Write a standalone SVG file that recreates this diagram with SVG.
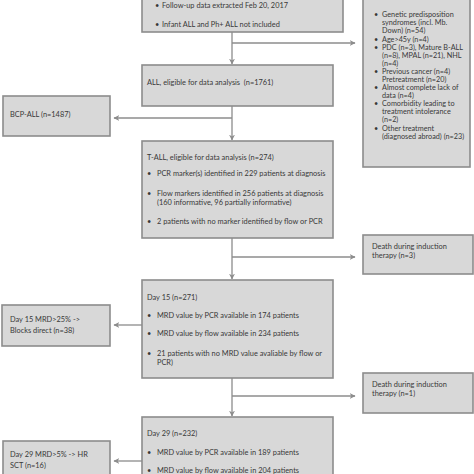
<svg xmlns="http://www.w3.org/2000/svg" width="474" height="474" viewBox="0 0 474 474">
<style>
.box{fill:#d8d8d8;stroke:#8c8c8c;stroke-width:1.6}
.t{font-family:Lato,"Liberation Sans",sans-serif;font-size:7.4px;fill:#383838}
.s{font-size:7.25px}
.c{fill:none;stroke:#8c8c8c;stroke-width:1.3}
</style>
<defs>
<marker id="ah" viewBox="0 0 10 10" refX="9" refY="5" markerWidth="6" markerHeight="6" markerUnits="userSpaceOnUse" orient="auto">
<path d="M0,0 L10,5 L0,10 L3,5 Z" fill="#8c8c8c"/>
</marker>
</defs>
<rect width="474" height="474" fill="#ffffff"/>

<g id="connectors">
<path class="c" d="M232,32 V64" marker-end="url(#ah)"/>
<path class="c" d="M232,43 H355" marker-end="url(#ah)"/>
<path class="c" d="M232,106 V140" marker-end="url(#ah)"/>
<path class="c" d="M232,118 H114" marker-end="url(#ah)"/>
<path class="c" d="M232,238 V279" marker-end="url(#ah)"/>
<path class="c" d="M232,257 H355" marker-end="url(#ah)"/>
<path class="c" d="M142,325 H114" marker-end="url(#ah)"/>
<path class="c" d="M232,378 V416" marker-end="url(#ah)"/>
<path class="c" d="M232,396 H355" marker-end="url(#ah)"/>
<path class="c" d="M142,461 H114" marker-end="url(#ah)"/>
</g>

<g id="top">
<rect class="box" x="142" y="-10" width="201" height="42"/>
<text class="t" x="155" y="7.5">•</text><text class="t" x="162" y="7.5">Follow-up data extracted Feb 20, 2017</text>
<text class="t" x="155" y="26.5">•</text><text class="t" x="162" y="26.5">Infant ALL and Ph+ ALL not included</text>
</g>

<g id="excluded">
<rect class="box" x="363" y="-5" width="107" height="172"/>
<text class="t s" x="374" y="16.5">•</text><text class="t s" x="382" y="16.5">Genetic predisposition</text>
<text class="t s" x="382" y="25">syndromes (incl. Mb.</text>
<text class="t s" x="382" y="33">Down) (n=54)</text>
<text class="t s" x="374" y="41.5">•</text><text class="t s" x="382" y="41.5">Age&gt;45y (n=4)</text>
<text class="t s" x="374" y="49.5">•</text><text class="t s" x="382" y="49.5">PDC (n=3), Mature B-ALL</text>
<text class="t s" x="382" y="57.5">(n=8), MPAL (n=21), NHL</text>
<text class="t s" x="382" y="65.5">(n=4)</text>
<text class="t s" x="374" y="73.5">•</text><text class="t s" x="382" y="73.5">Previous cancer (n=4)</text>
<text class="t s" x="382" y="81.5">Pretreatment (n=20)</text>
<text class="t s" x="374" y="89.5">•</text><text class="t s" x="382" y="89.5">Almost complete lack of</text>
<text class="t s" x="382" y="97.5">data (n=4)</text>
<text class="t s" x="374" y="105.5">•</text><text class="t s" x="382" y="105.5">Comorbidity leading to</text>
<text class="t s" x="382" y="114">treatment intolerance</text>
<text class="t s" x="382" y="122">(n=2)</text>
<text class="t s" x="374" y="130.5">•</text><text class="t s" x="382" y="130.5">Other treatment</text>
<text class="t s" x="382" y="138.5">(diagnosed abroad) (n=23)</text>
</g>

<g id="all">
<rect class="box" x="142" y="65" width="191" height="41"/>
<text class="t" x="147" y="85" xml:space="preserve">ALL, eligible for data analysis  (n=1761)</text>
</g>

<g id="bcp">
<rect class="box" x="3" y="96" width="107" height="40"/>
<text class="t" x="10" y="117">BCP-ALL (n=1487)</text>
</g>

<g id="tall">
<rect class="box" x="142" y="141" width="191" height="97"/>
<text class="t" x="147" y="160">T-ALL, eligible for data analysis (n=274)</text>
<text class="t" x="147" y="176">•</text><text class="t" x="157" y="176">PCR marker(s) identified in 229 patients at diagnosis</text>
<text class="t" x="147" y="196">•</text><text class="t" x="157" y="196">Flow markers identified in 256 patients at diagnosis</text>
<text class="t" x="157" y="204.5">(160 informative, 96 partially informative)</text>
<text class="t" x="147" y="224">•</text><text class="t" x="157" y="224">2 patients with no marker identified by flow or PCR</text>
</g>

<g id="death1">
<rect class="box" x="363" y="235" width="110" height="39"/>
<text class="t" x="372" y="249">Death during induction</text>
<text class="t" x="372" y="257.5">therapy (n=3)</text>
</g>

<g id="day15">
<rect class="box" x="142" y="280" width="191" height="98"/>
<text class="t" x="147" y="300">Day 15 (n=271)</text>
<text class="t" x="147" y="318">•</text><text class="t" x="157" y="318">MRD value by PCR available in 174 patients</text>
<text class="t" x="147" y="336">•</text><text class="t" x="157" y="336">MRD value by flow available in 234 patients</text>
<text class="t" x="147" y="356">•</text><text class="t" x="157" y="356">21 patients with no MRD value avaliable by flow or</text>
<text class="t" x="157" y="364.5">PCR)</text>
</g>

<g id="d15blocks">
<rect class="box" x="2" y="305" width="108" height="41"/>
<text class="t" x="10" y="322">Day 15 MRD&gt;25% -&gt;</text>
<text class="t" x="10" y="333">Blocks direct (n=38)</text>
</g>

<g id="death2">
<rect class="box" x="363" y="373" width="110" height="40"/>
<text class="t" x="372" y="387">Death during induction</text>
<text class="t" x="372" y="395.5">therapy (n=1)</text>
</g>

<g id="day29">
<rect class="box" x="142" y="417" width="191" height="70"/>
<text class="t" x="147" y="436">Day 29 (n=232)</text>
<text class="t" x="147" y="455">•</text><text class="t" x="157" y="455">MRD value by PCR available in 189 patients</text>
<text class="t" x="147" y="473">•</text><text class="t" x="157" y="473">MRD value by flow available in 204 patients</text>
</g>

<g id="d29sct">
<rect class="box" x="3" y="441" width="107" height="45"/>
<text class="t" x="10" y="457">Day 29 MRD&gt;5% -&gt; HR</text>
<text class="t" x="10" y="468">SCT (n=16)</text>
</g>
</svg>
